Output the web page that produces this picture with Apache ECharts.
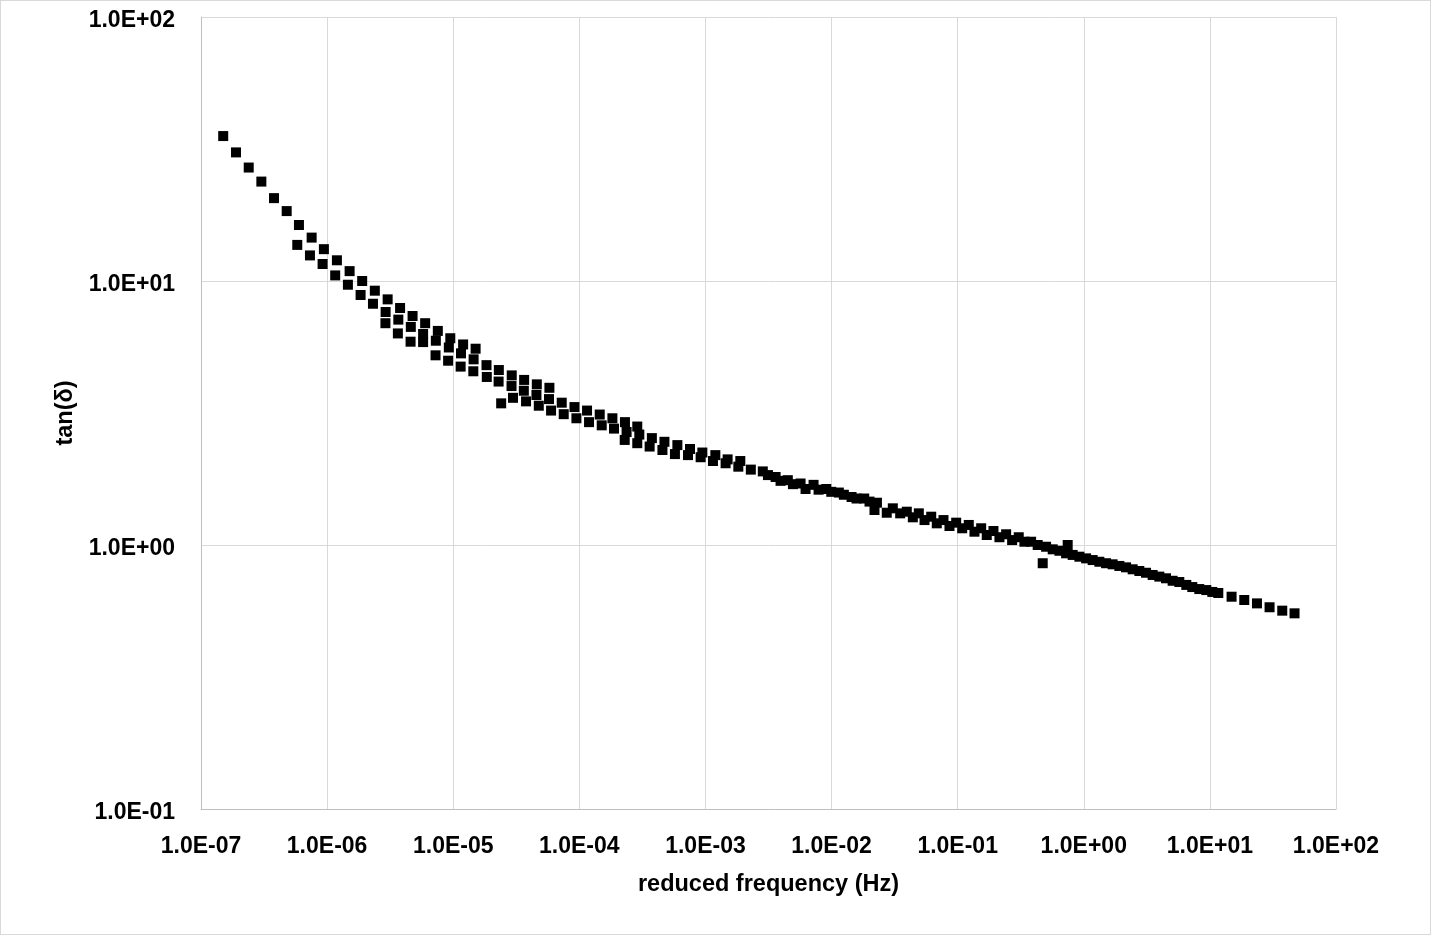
<!DOCTYPE html>
<html>
<head>
<meta charset="utf-8">
<script src="https://cdn.jsdelivr.net/npm/echarts@6/dist/echarts.min.js"></script>
<style>
html,body{margin:0;padding:0;background:#fff;}
#chart{width:1431px;height:935px;box-sizing:border-box;border:1px solid #d9d9d9;}
</style>
</head>
<body>
<div id="chart"></div>
<script>
// reduced frequency (Hz)
const freq = [
1.50e-7,1.894e-7,2.39e-7,3.01e-7,3.79e-7,4.78e-7,5.98e-7,5.80e-7,7.54e-7,7.31e-7,
9.43e-7,9.21e-7,1.196e-6,1.159e-6,1.508e-6,1.462e-6,1.897e-6,1.843e-6,2.39e-6,2.31e-6,
3.02e-6,2.91e-6,2.90e-6,3.79e-6,3.67e-6,3.64e-6,4.76e-6,4.61e-6,4.59e-6,5.99e-6,
5.77e-6,5.77e-6,7.55e-6,7.28e-6,7.24e-6,9.48e-6,9.23e-6,9.11e-6,1.198e-5,1.153e-5,
1.145e-5,1.505e-5,1.451e-5,1.443e-5,1.836e-5,1.846e-5,2.30e-5,2.29e-5,2.40e-5,2.91e-5,
2.90e-5,2.98e-5,3.65e-5,3.63e-5,3.78e-5,4.60e-5,4.57e-5,4.77e-5,5.79e-5,5.75e-5,
5.97e-5,7.25e-5,7.52e-5,9.15e-5,9.48e-5,1.151e-4,1.194e-4,1.451e-4,1.505e-4,1.829e-4,
1.884e-4,2.30e-4,2.37e-4,2.29e-4,2.88e-4,2.99e-4,2.88e-4,3.76e-4,3.61e-4,4.73e-4,
4.56e-4,5.99e-4,5.73e-4,7.54e-4,7.27e-4,9.45e-4,9.16e-4,1.198e-3,1.147e-3,1.499e-3,
1.445e-3,1.890e-3,1.823e-3,2.29e-3,2.85e-3,3.13e-3,3.60e-3,3.94e-3,4.50e-3,4.94e-3,
5.68e-3,6.22e-3,7.20e-3,7.89e-3,9.08e-3,9.95e-3,1.142e-2,1.252e-2,1.441e-2,1.578e-2,
1.816e-2,2.00e-2,2.19e-2,2.29e-2,2.74e-2,3.06e-2,3.50e-2,3.95e-2,4.41e-2,4.92e-2,
5.46e-2,6.17e-2,6.83e-2,7.72e-2,8.61e-2,9.73e-2,0.1086,0.1225,0.1359,0.1536,
0.1701,0.1922,0.2144,0.2423,0.2703,0.3050,0.3383,0.3823,0.4311,0.4725,
0.5025,0.567,0.641,0.7455,0.724,0.8166,0.923,1.043,1.176,1.329,
1.502,1.694,1.915,2.164,2.441,2.758,3.117,3.516,3.973,4.489,
5.064,5.722,6.501,7.253,8.241,9.366,10.45,11.66,14.86,18.73,
23.62,29.73,37.48,46.91
];
// tan(delta)
const tanDelta = [
35.4,30.7,26.9,23.8,20.6,18.4,16.3,13.7,14.6,12.5,
13.2,11.6,11.98,10.5,10.9,9.68,10.0,8.85,9.19,8.20,
8.52,7.63,6.92,7.90,7.14,6.33,7.37,6.70,5.89,6.92,
6.30,5.87,6.47,5.94,5.23,6.07,5.60,4.99,5.75,5.32,
4.74,5.54,5.05,4.55,4.80,4.33,4.60,4.16,3.44,4.39,
4.00,3.61,4.22,3.84,3.50,4.06,3.70,3.37,3.94,3.57,
3.23,3.46,3.13,3.33,3.02,3.23,2.92,3.12,2.84,3.02,
2.76,2.92,2.68,2.50,2.81,2.62,2.43,2.54,2.36,2.46,
2.29,2.39,2.21,2.31,2.19,2.24,2.15,2.19,2.08,2.11,
2.04,2.08,1.98,1.93,1.90,1.84,1.81,1.75,1.76,1.70,
1.71,1.63,1.69,1.62,1.63,1.59,1.58,1.55,1.52,1.50,
1.50,1.46,1.357,1.446,1.325,1.377,1.318,1.337,1.273,1.318,
1.243,1.280,1.208,1.243,1.180,1.215,1.157,1.191,1.123,1.157,
1.091,1.130,1.070,1.098,1.044,1.070,1.029,1.029,1.000,0.853,
0.985,0.963,0.951,1.000,0.930,0.917,0.903,0.890,0.877,0.864,
0.853,0.845,0.833,0.823,0.809,0.797,0.785,0.770,0.759,0.748,
0.732,0.724,0.706,0.693,0.681,0.675,0.664,0.658,0.637,0.619,
0.601,0.581,0.564,0.551
];
const xTickValues = [1e-7,1e-6,1e-5,1e-4,1e-3,1e-2,1e-1,1e0,1e1,1e2];
const xTickLabels = ['1.0E-07','1.0E-06','1.0E-05','1.0E-04','1.0E-03','1.0E-02','1.0E-01','1.0E+00','1.0E+01','1.0E+02'];
const yTickValues = [1e-1,1e0,1e1,1e2];
const yTickLabels = ['1.0E-01','1.0E+00','1.0E+01','1.0E+02'];

function pickLabel(vals, labels, v) {
  let best = 0, bd = Infinity;
  for (let i = 0; i < vals.length; i++) {
    const d = Math.abs(Math.log10(vals[i]) - Math.log10(v));
    if (d < bd) { bd = d; best = i; }
  }
  return bd < 0.01 ? labels[best] : '';
}

const points = freq.map((f, i) => [f, tanDelta[i]]);
const fontFam = '"Liberation Sans", Arial, sans-serif';
const chart = echarts.init(document.getElementById('chart'), null, {renderer: 'canvas'});
chart.setOption({
  animation: false,
  backgroundColor: '#ffffff',
  grid: {left: 200, right: 94, top: 16, bottom: 125, containLabel: false},
  xAxis: {
    type: 'log', logBase: 10, min: 1e-7, max: 1e2,
    name: 'reduced frequency (Hz)', nameLocation: 'middle', nameGap: 64,
    nameTextStyle: {fontFamily: fontFam, fontWeight: 'bold', fontSize: 23.5, color: '#000'},
    axisLine: {show: true, lineStyle: {color: '#bfbfbf', width: 1}},
    axisTick: {show: false},
    splitLine: {show: true, lineStyle: {color: '#d9d9d9', width: 1}},
    minorTick: {show: false},
    axisLabel: {
      margin: 26, color: '#000', fontFamily: fontFam, fontWeight: 'bold', fontSize: 23,
      formatter: v => pickLabel(xTickValues, xTickLabels, v)
    }
  },
  yAxis: {
    type: 'log', logBase: 10, min: 0.1, max: 100,
    name: 'tan(δ)', nameLocation: 'middle', nameGap: 123,
    nameTextStyle: {fontFamily: fontFam, fontWeight: 'bold', fontSize: 23.5, color: '#000'},
    axisLine: {show: true, lineStyle: {color: '#bfbfbf', width: 1}},
    axisTick: {show: false},
    splitLine: {show: true, lineStyle: {color: '#d9d9d9', width: 1}},
    axisLabel: {
      margin: 26, color: '#000', fontFamily: fontFam, fontWeight: 'bold', fontSize: 23,
      formatter: v => { const s = pickLabel(yTickValues, yTickLabels, v); return s ? '{a|' + s + '}' : ''; },
      rich: {a: {fontFamily: fontFam, fontWeight: 'bold', fontSize: 23, color: '#000', padding: [8, 0, 0, 0]}}
    }
  },
  series: [{
    type: 'scatter',
    data: points,
    symbol: 'rect',
    symbolSize: 10,
    itemStyle: {color: '#000000', opacity: 1},
    emphasis: {disabled: true}
  }]
});
</script>
</body>
</html>
